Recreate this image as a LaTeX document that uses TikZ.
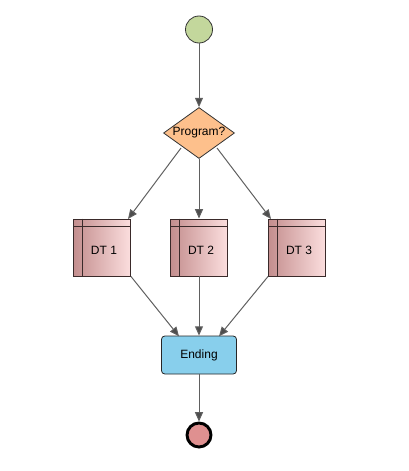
\documentclass[tikz,border=0pt]{standalone}
\usepackage{fontspec}
\setmainfont{Liberation Sans}
\usetikzlibrary{shapes.geometric,arrows.meta,shadings}
\definecolor{startg}{HTML}{C3D79C}
\definecolor{decor}{HTML}{FDC08C}
\definecolor{dtdark}{HTML}{C48E8E}
\definecolor{dtlight}{HTML}{FBDEDE}
\definecolor{endb}{HTML}{88CFEC}
\definecolor{stopr}{HTML}{DF9090}
\definecolor{edgec}{HTML}{606060}
\definecolor{bord}{HTML}{3A2A2A}
\tikzset{
  every node/.style={font=\fontsize{9}{11}\selectfont},
  startnode/.style={circle,draw=black!80,fill=startg,minimum size=27*0.75pt,inner sep=0pt,line width=0.6pt},
  decision/.style={diamond,draw=black!80,fill=decor,minimum width=71*0.75pt,minimum height=51*0.75pt,inner sep=0pt,aspect=1.4,line width=0.6pt},
  dtbox/.style={draw=bord,left color=dtdark,right color=dtlight,minimum width=57*0.75pt,minimum height=57*0.75pt,inner sep=0pt,line width=0.7pt},
  endbox/.style={draw=black!85,fill=endb,rounded corners=2.5pt,minimum width=75*0.75pt,minimum height=38*0.75pt,inner sep=0pt,line width=0.6pt},
  stopnode/.style={circle,draw=black,fill=stopr,minimum size=24*0.75pt,inner sep=0pt,line width=2.2pt},
  flow/.style={draw=edgec,line width=0.75pt,-{Triangle[length=7pt,width=6pt,fill=edgec!80!black]}},
}
\begin{document}
\begin{tikzpicture}[x=0.75pt,y=-0.75pt]
\useasboundingbox (0,0) rectangle (409,471);
\node[startnode] (s) at (199,29.5) {};
\node[decision] (d) at (199,133) {Program?};
\node[dtbox] (t1) at (102,247.5) {};
\node[dtbox] (t2) at (199,247.5) {};
\node[dtbox] (t3) at (297,247.5) {};
\foreach \n/\t in {t1/DT 1,t2/DT 2,t3/DT 3}{
  \draw[bord,line width=0.7pt] ([yshift=-8*0.75pt]\n.north west) -- ([yshift=-8*0.75pt]\n.north east);
  \draw[bord,line width=0.7pt] ([xshift=9*0.75pt]\n.north west) -- ([xshift=9*0.75pt]\n.south west);
  \node at ([xshift=1.5pt,yshift=-2pt]\n.center) {\t};
}
\node[endbox] (e) at (199,355) {Ending};
\node[stopnode] (x) at (199,435) {};
\coordinate (dl) at (181,148);
\coordinate (dr) at (217,148);
\coordinate (t1a) at (128,219);
\coordinate (t3a) at (271,219);
\coordinate (el) at (179,336.3);
\coordinate (er) at (219,336.3);
\draw[flow] (s) -- (d);
\draw[flow] (dl) -- (t1a);
\draw[flow] (d) -- (t2);
\draw[flow] (dr) -- (t3a);
\draw[flow] (t1.south east) -- (el);
\draw[flow] (t2) -- (e);
\draw[flow] (t3.south west) -- (er);
\draw[flow] (e) -- (x);
\end{tikzpicture}
\end{document}
